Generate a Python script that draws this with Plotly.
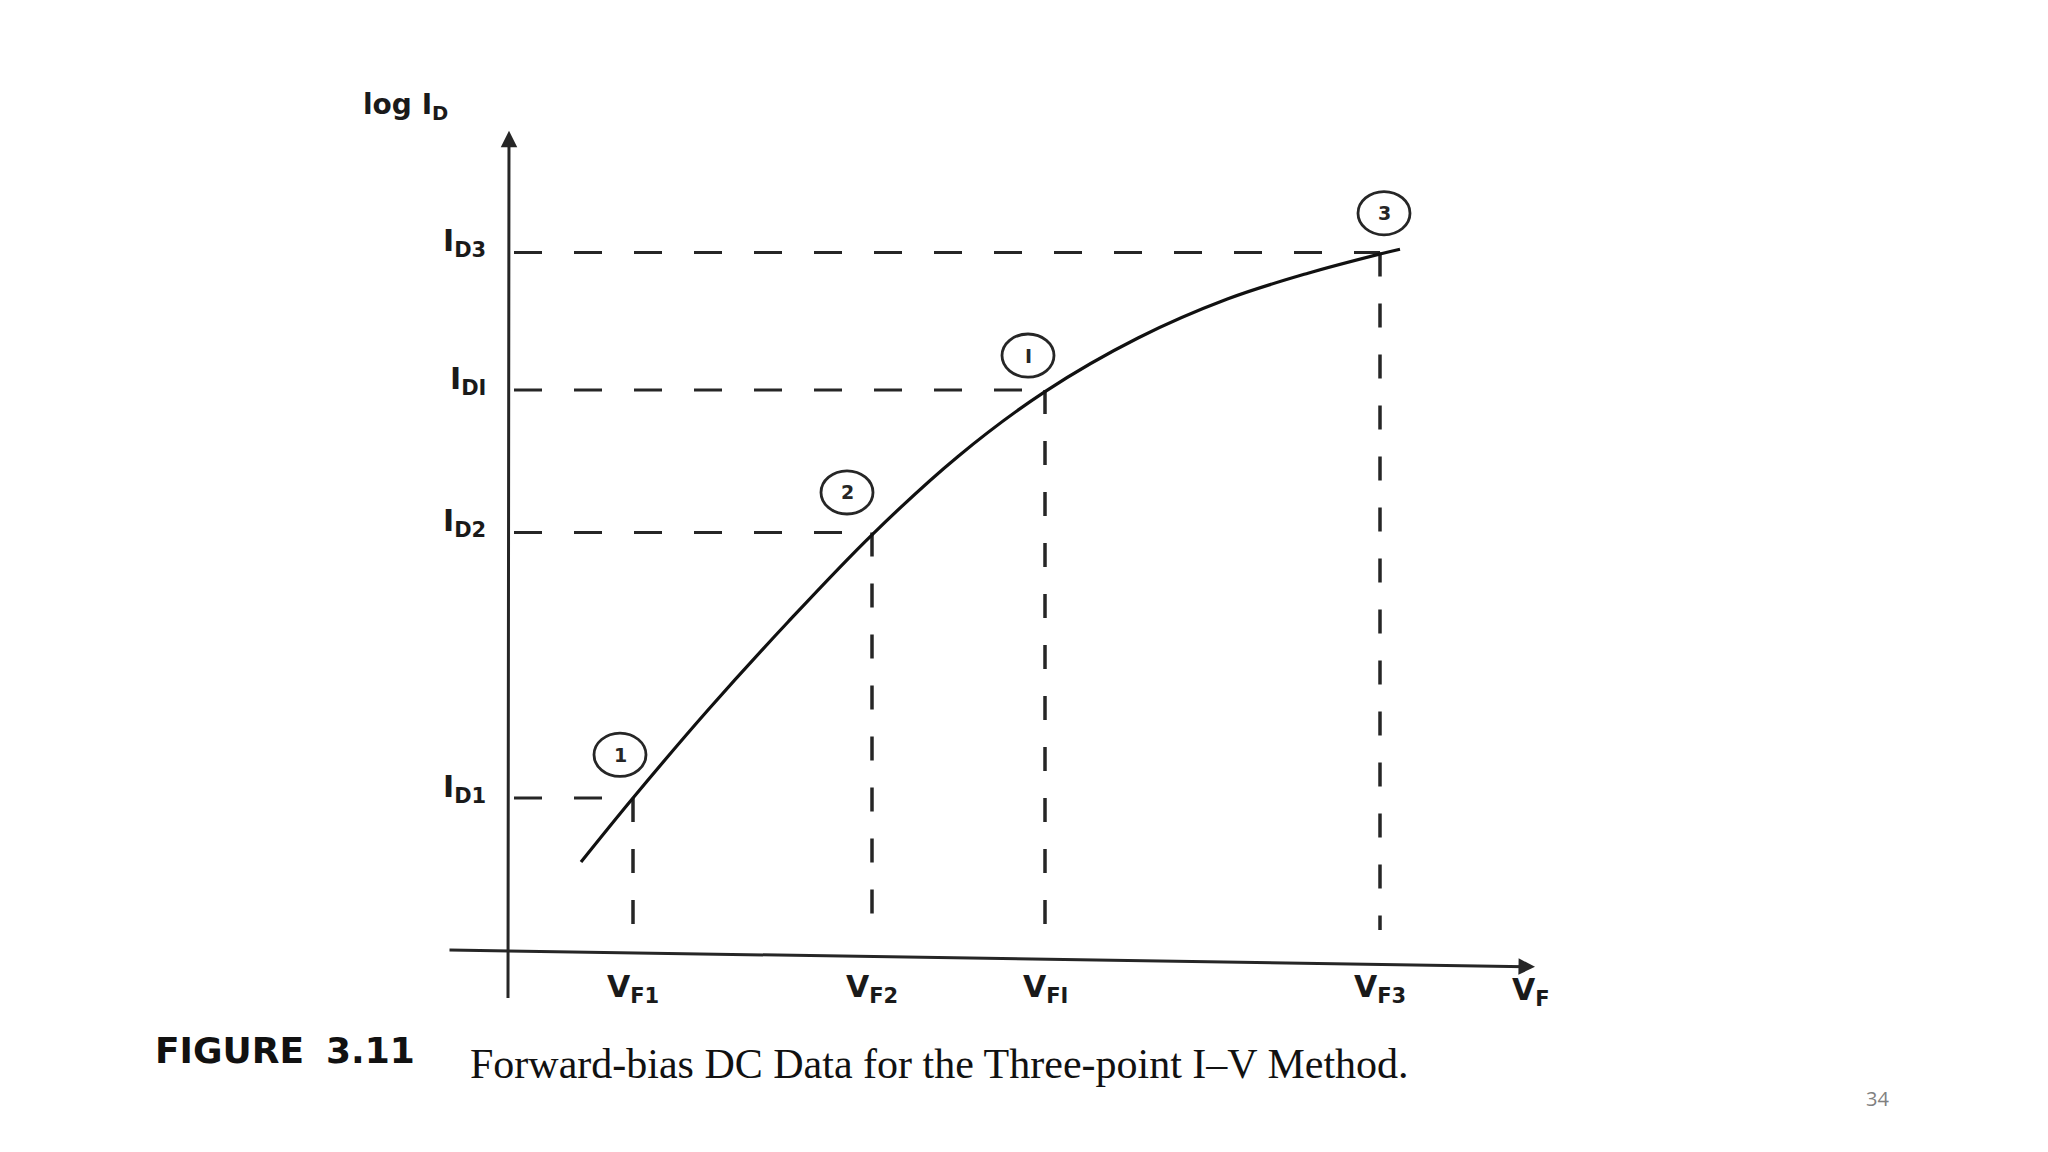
import plotly.graph_objects as go

# ---------------- data (chart units: V along x, log I along y) ----------------
curve_v = [0.73, 1.25, 2.00, 2.80, 3.64, 4.50, 5.37, 6.30, 7.20, 8.00, 8.72, 8.92]
curve_logi = [1.10, 1.90, 3.00, 4.10, 5.19, 6.17, 6.98, 7.65, 8.14, 8.46, 8.70, 8.76]

point_names = ["1", "2", "I", "3"]
point_v = [1.25, 3.64, 5.37, 8.72]        # V_F1, V_F2, V_FI, V_F3
point_logi = [1.90, 5.22, 7.00, 8.72]     # I_D1, I_D2, I_DI, I_D3
vf_labels = ["V<sub>F1</sub>", "V<sub>F2</sub>", "V<sub>FI</sub>", "V<sub>F3</sub>"]
id_labels = ["I<sub>D1</sub>", "I<sub>D2</sub>", "I<sub>DI</sub>", "I<sub>D3</sub>"]

# ---------------- layout helpers (styles / offsets) ----------------
circle_dx = [-0.13, -0.25, -0.17, 0.04]
circle_dy = [0.54, 0.50, 0.43, 0.49]
circle_rx, circle_ry = 0.26, 0.27
INK = "#262626"
X_RANGE = [-5.08, 15.40]
Y_RANGE = [-2.525, 11.875]

fig = go.Figure()

# dashed guide lines
for v, li in zip(point_v, point_logi):
    fig.add_trace(go.Scatter(x=[0.06, v], y=[li, li], mode="lines",
                             line=dict(color=INK, width=3, dash="28px,32px"),
                             hoverinfo="skip", showlegend=False))
    fig.add_trace(go.Scatter(x=[v, v], y=[li, 0.25], mode="lines",
                             line=dict(color=INK, width=3.5, dash="24px,27px"),
                             hoverinfo="skip", showlegend=False))

# the I-V curve
fig.add_trace(go.Scatter(x=curve_v, y=curve_logi, mode="lines",
                         line=dict(color="#111111", width=3.2, shape="spline", smoothing=1.0),
                         hoverinfo="skip", showlegend=False))

shapes = []
annotations = []

# circled point numbers
for name, v, li, dx, dy in zip(point_names, point_v, point_logi, circle_dx, circle_dy):
    cx, cy = v + dx, li + dy
    shapes.append(dict(type="circle", xref="x", yref="y",
                       x0=cx - circle_rx, x1=cx + circle_rx,
                       y0=cy - circle_ry, y1=cy + circle_ry,
                       line=dict(color=INK, width=2.8)))
    annotations.append(dict(x=cx, y=cy, xref="x", yref="y", text="<b>" + name + "</b>",
                            showarrow=False, font=dict(family="DejaVu Sans", size=19, color=INK)))

# axes (drawn as arrows)
annotations.append(dict(x=0.01, y=10.24, ax=0.0, ay=-0.62, xref="x", yref="y",
                        axref="x", ayref="y", text="", showarrow=True,
                        arrowhead=2, arrowsize=1.1, arrowwidth=3, arrowcolor=INK))
annotations.append(dict(x=10.27, y=-0.21, ax=-0.60, ay=0.0, xref="x", yref="y",
                        axref="x", ayref="y", text="", showarrow=True,
                        arrowhead=2, arrowsize=1.1, arrowwidth=3, arrowcolor=INK))

lab_font = dict(family="DejaVu Sans", size=30, color="#1a1a1a")

# axis titles
annotations.append(dict(x=-1.03, y=10.54, xref="x", yref="y", text="<b>log I<sub>D</sub></b>",
                        showarrow=False, font=dict(family="DejaVu Sans", size=28, color="#1a1a1a")))
annotations.append(dict(x=10.23, y=-0.52, xref="x", yref="y", text="<b>V<sub>F</sub></b>",
                        showarrow=False, font=lab_font))

# tick-like labels
for v, t in zip(point_v, vf_labels):
    annotations.append(dict(x=v, y=-0.48, xref="x", yref="y", text="<b>" + t + "</b>",
                            showarrow=False, font=lab_font))
for li, t in zip(point_logi, id_labels):
    annotations.append(dict(x=-0.20, y=li + 0.12, xref="x", yref="y", text="<b>" + t + "</b>",
                            xanchor="right", showarrow=False, font=lab_font))

# caption
annotations.append(dict(x=-3.55, y=-1.25, xref="x", yref="y", text="<b>FIGURE</b>",
                        xanchor="left", showarrow=False,
                        font=dict(family="DejaVu Sans", size=36, color="#111111")))
annotations.append(dict(x=-1.84, y=-1.25, xref="x", yref="y", text="<b>3.11</b>",
                        xanchor="left", showarrow=False,
                        font=dict(family="DejaVu Sans", size=36, color="#111111")))
annotations.append(dict(x=-0.40, y=-1.43, xref="x", yref="y",
                        text="Forward-bias DC Data for the Three-point I\u2013V Method.",
                        xanchor="left", showarrow=False,
                        font=dict(family="Liberation Serif", size=42, color="#111111")))

# slide number
annotations.append(dict(x=13.69, y=-1.85, xref="x", yref="y", text="34",
                        showarrow=False, font=dict(family="Open Sans", size=20, color="#808080")))

fig.update_layout(
    width=2048, height=1152,
    margin=dict(l=0, r=0, t=0, b=0),
    paper_bgcolor="white", plot_bgcolor="white",
    xaxis=dict(range=X_RANGE, visible=False, fixedrange=True),
    yaxis=dict(range=Y_RANGE, visible=False, fixedrange=True),
    shapes=shapes, annotations=annotations,
    showlegend=False,
)

fig.write_html("out.html")
